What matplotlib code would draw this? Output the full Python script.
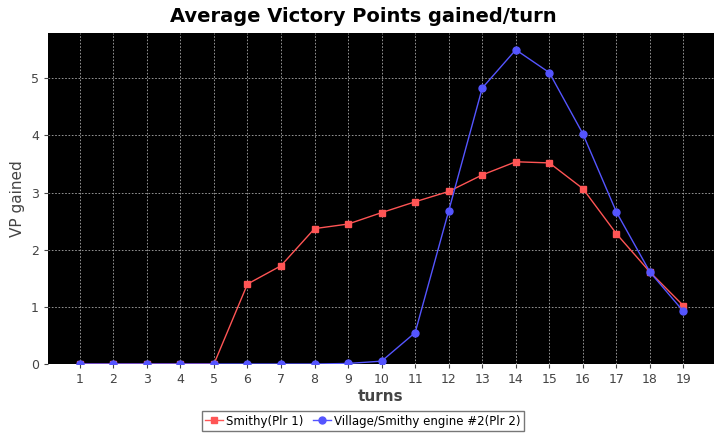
import matplotlib
matplotlib.use("Agg")
import matplotlib.pyplot as plt

turns = list(range(1, 20))
smithy = [0, 0, 0, 0, 0, 1.40, 1.72, 2.37, 2.45, 2.65, 2.84, 3.02, 3.31, 3.54, 3.52, 3.07, 2.28, 1.61, 1.02]
village = [0, 0, 0, 0, 0, 0, 0, 0, 0.01, 0.05, 0.55, 2.68, 4.83, 5.50, 5.10, 4.03, 2.66, 1.61, 0.92]

fig = plt.figure(figsize=(7.26, 4.37), dpi=100)
ax = fig.add_axes([0.066, 0.167, 0.917, 0.757])
ax.set_facecolor("black")
ax.plot(turns, smithy, color="#ff5555", marker="s", markersize=5, linewidth=1, label="Smithy(Plr 1)")
ax.plot(turns, village, color="#5555ff", marker="o", markersize=5, linewidth=1, label="Village/Smithy engine #2(Plr 2)")
ax.set_xlim(0.05, 19.9)
ax.set_ylim(0, 5.79)
ax.set_xticks(turns)
ax.set_yticks([0, 1, 2, 3, 4, 5])
ax.grid(True, color="#aaaaaa", linestyle=(0, (2, 2)), linewidth=0.6)
ax.tick_params(labelsize=9, colors="#444444", length=3)
for s in ax.spines.values():
    s.set_visible(False)
ax.set_xlabel("turns", fontsize=11, fontweight="bold", color="#444444", labelpad=2)
ax.set_ylabel("VP gained", fontsize=11, color="#444444")
fig.suptitle("Average Victory Points gained/turn", fontsize=14, fontweight="bold", y=0.985)
leg = fig.legend(loc="lower center", bbox_to_anchor=(0.5, 0.0), ncol=2, fontsize=8.5,
                 frameon=True, fancybox=False, edgecolor="#555555", handlelength=1.5,
                 columnspacing=0.8, handletextpad=0.3, borderpad=0.3)
fig.savefig("out.png", dpi=100)
